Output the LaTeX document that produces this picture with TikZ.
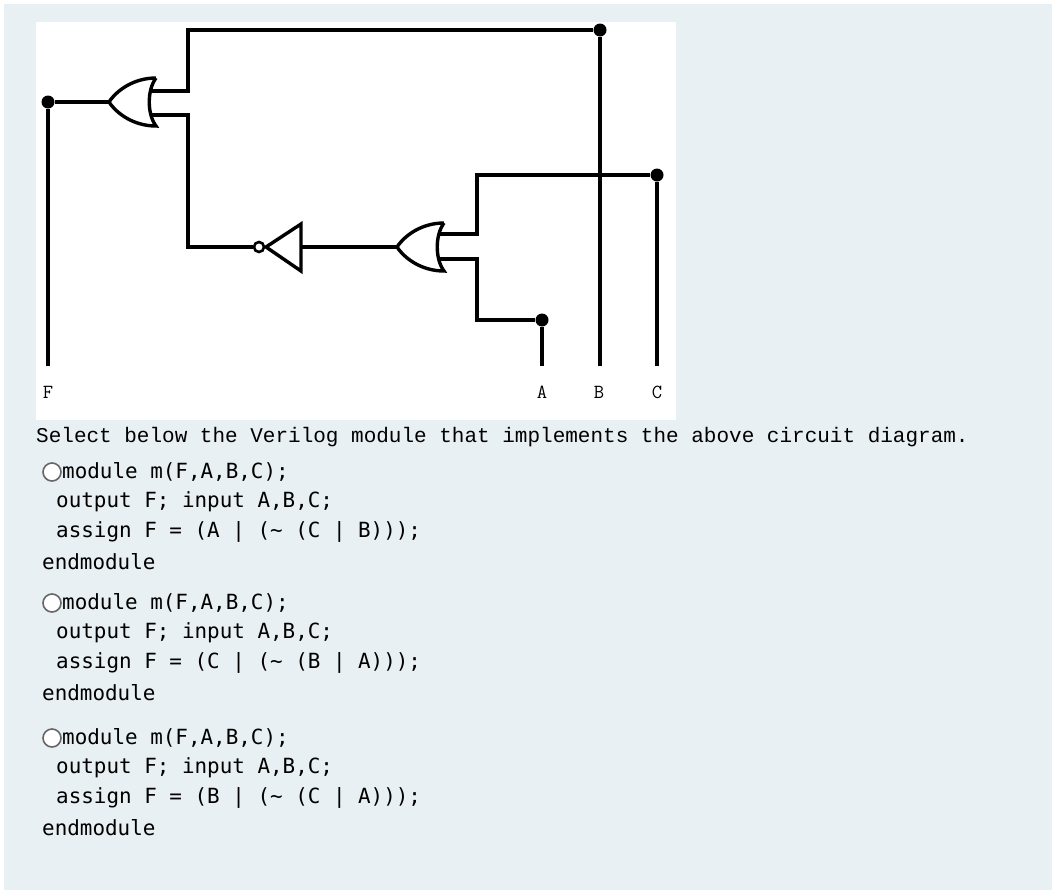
\documentclass[tikz,border=0pt]{standalone}
\usepackage{fontspec}
\setmonofont{Liberation Mono}
\newfontfamily\optfont{DejaVu Sans Mono}
\newfontfamily\lblfont{Latin Modern Mono}
\tikzset{wire/.style={line width=3.4pt},
  dot/.style={circle,fill=black,inner sep=0pt,minimum size=13pt},
  lbl/.style={font=\lblfont\fontsize{20}{20}\selectfont},
  opt/.style={anchor=west,font=\optfont\fontsize{20.9}{20.9}\selectfont,inner sep=0pt},
  pics/orgate/.style={code={
    \draw[wire,fill=white] (47,-24) .. controls (25,-24) and (8,-12) .. (0,0)
      .. controls (8,12) and (25,24) .. (47,24) .. controls (38,12) and (38,-12) .. (47,-24);}}}
\begin{document}
\begin{tikzpicture}[x=1pt,y=-1pt]
\fill[white] (0,0) rectangle (1052,892);
\fill[fill={rgb,255:red,232;green,240;blue,244}] (4,4) rectangle (1052,890);
\fill[white] (36,22) rectangle (676,420);
% gates
\pic at (109,102) {orgate};
\pic at (397,247) {orgate};
\draw[wire,fill=white] (301,224) -- (301,271) -- (266,247) -- cycle;
\node[circle,draw,line width=2.6pt,fill=white,inner sep=0pt,minimum size=10pt] (bub) at (259,247) {};
% wires
\node[dot] (f) at (48,102) {};
\node[dot] (a) at (542,320) {};
\node[dot] (b) at (600,30) {};
\node[dot] (c) at (657,175) {};
\draw[wire] (f) -- (109,102);
\draw[wire] (f) -- (48,366);
\draw[wire] (150,91) -- (188,91) |- (b);
\draw[wire] (150,115) -- (188,115) |- (bub);
\draw[wire] (301,247) -- (397,247);
\draw[wire] (438,234) -- (477,234) |- (c);
\draw[wire] (438,259) -- (477,259) |- (a);
\draw[wire] (a) -- (542,366);
\draw[wire] (b) -- (600,366);
\draw[wire] (c) -- (657,366);
\node[lbl] at (48,392) {F};
\node[lbl] at (542,392) {A};
\node[lbl] at (599,392) {B};
\node[lbl] at (657,392) {C};
% text
\node[anchor=west,inner sep=0pt,font=\ttfamily\fontsize{21}{21}\selectfont] at (36,437) {Select below the Verilog module that implements the above circuit diagram.};
\foreach \y/\e in {472/{(A | (\textasciitilde{} (C | B)))},603/{(C | (\textasciitilde{} (B | A)))},738/{(B | (\textasciitilde{} (C | A)))}} {
  \draw[line width=1.6pt,draw=gray!80!black,fill=white] (52,\y) circle (9);
  \node[opt] at (62,\y) {module m(F,A,B,C);};
  \node[opt] at (56,\y+30) {output F; input A,B,C;};
  \node[opt] at (56,\y+60) {assign F = \e;};
  \node[opt] at (42,\y+90) {endmodule};
}
\end{tikzpicture}
\end{document}
